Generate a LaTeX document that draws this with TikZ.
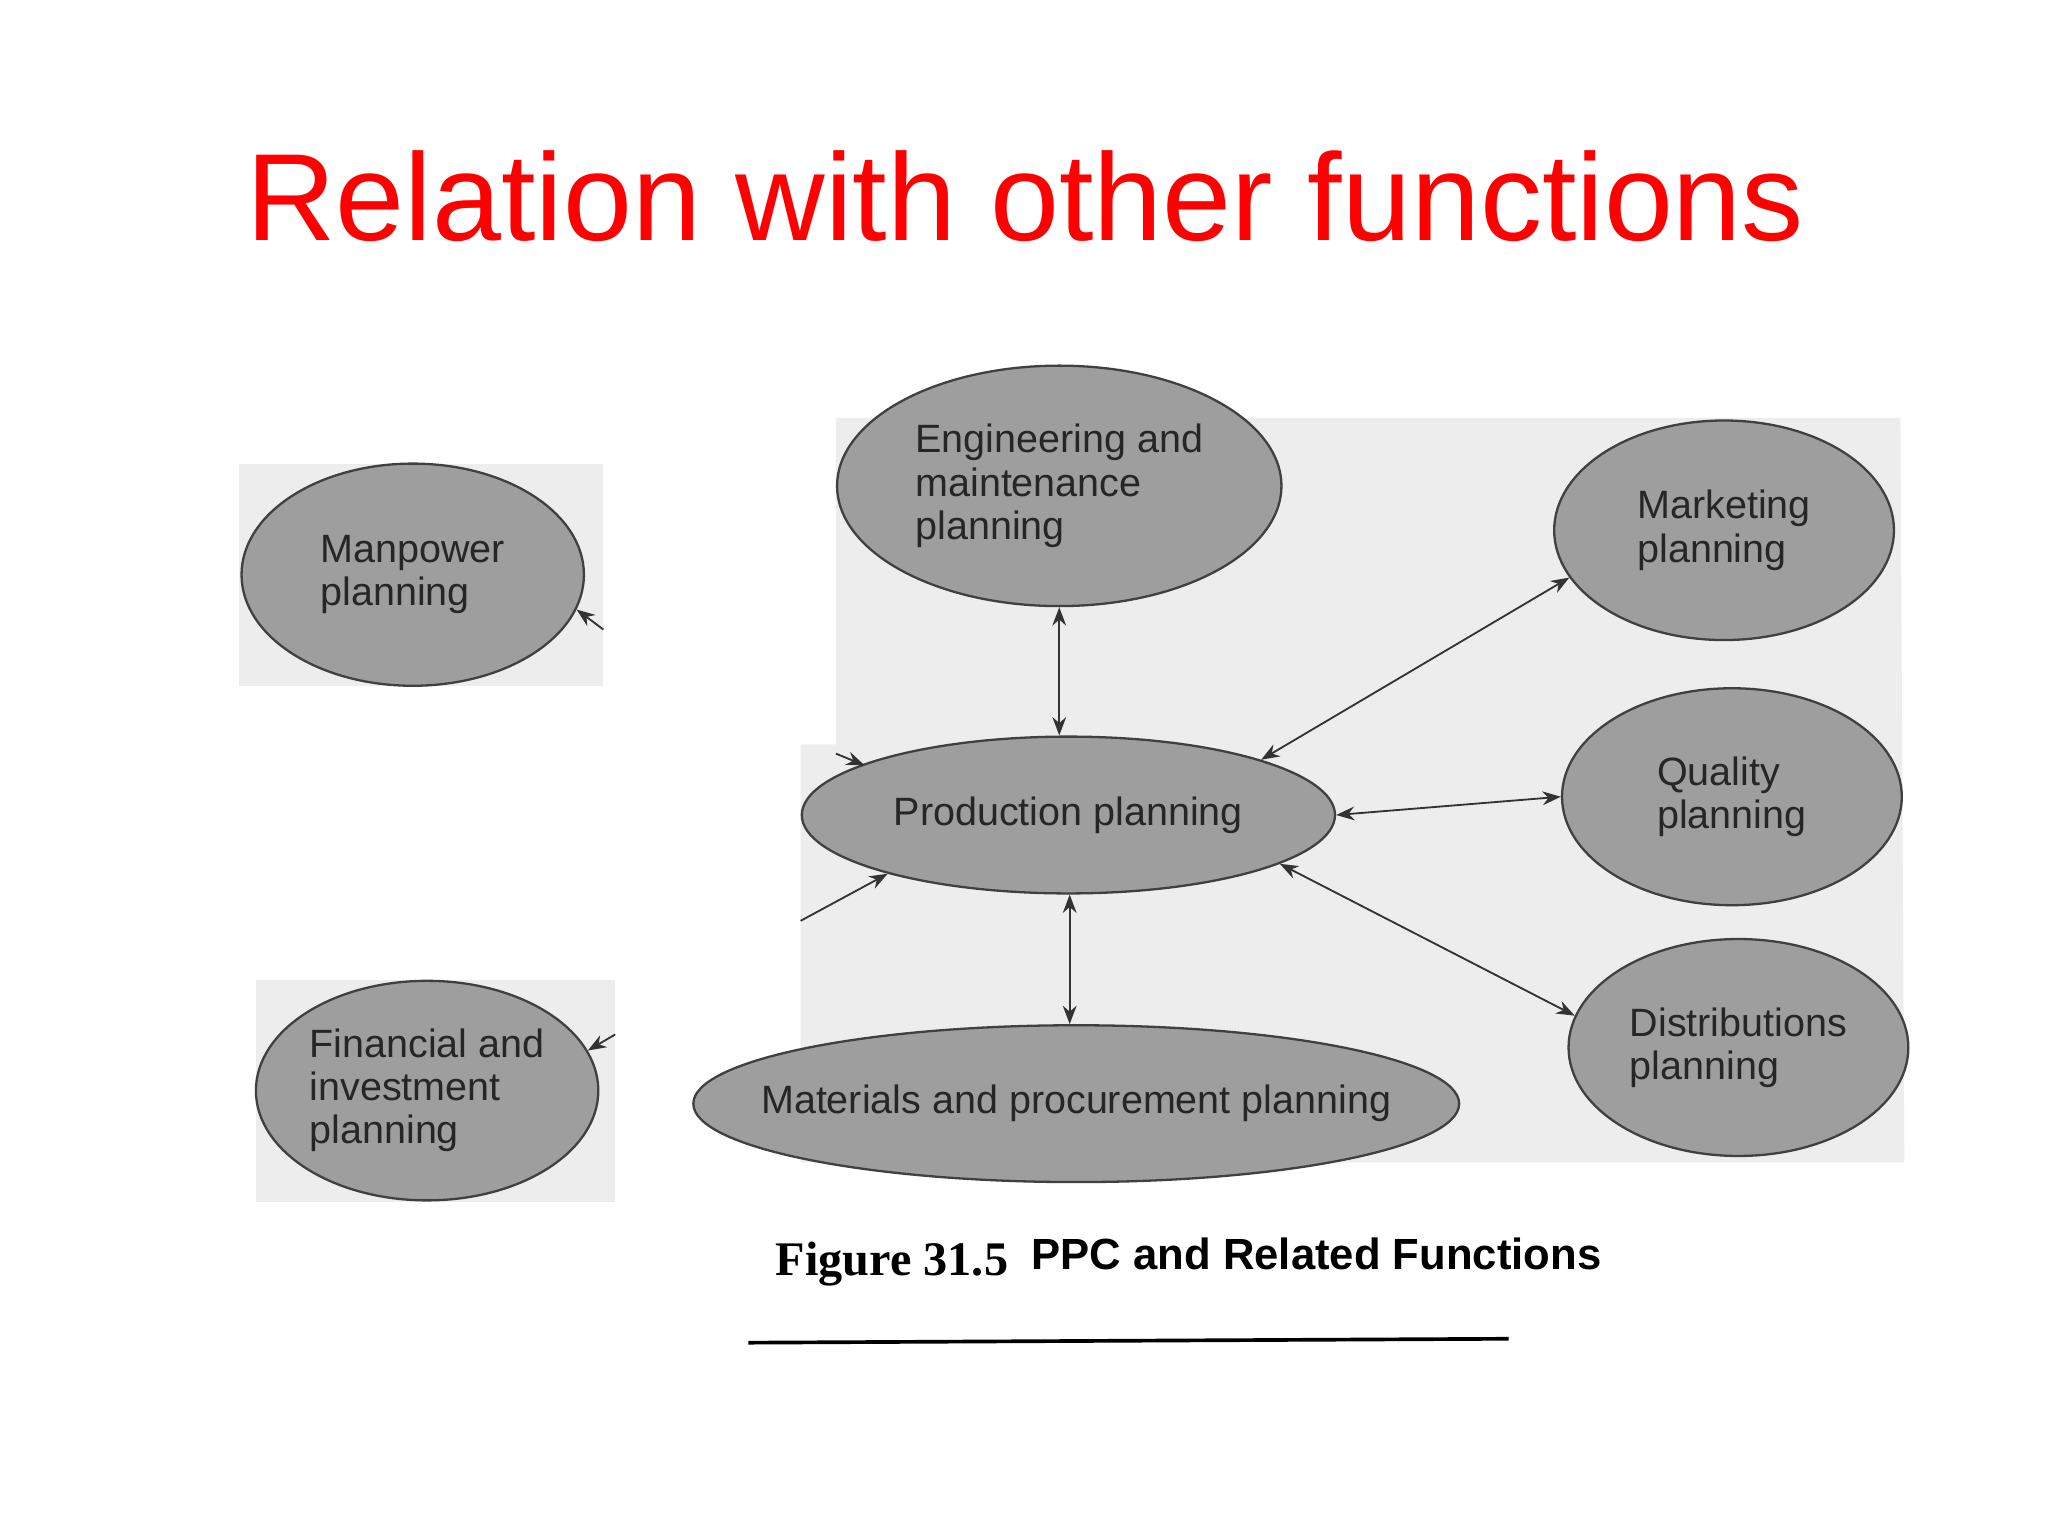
\documentclass[tikz,border=0pt]{standalone}
\usepackage{fontspec}
\setmainfont{Liberation Serif}
\setsansfont{Liberation Sans}
\usetikzlibrary{shapes.geometric,arrows.meta}
\tikzset{
 oval/.style={ellipse,draw=black!75,line width=0.5pt,fill=black!38,inner sep=0pt,font=\sffamily\fontsize{8.6}{9.4}\selectfont,text=black!85,align=left},
 ovaltext/.style={font=\sffamily\fontsize{8.6}{9.4}\selectfont,text=black!85},
 link/.style={draw=black!80,line width=0.4pt,{Stealth[length=4pt,width=3pt]}-{Stealth[length=4pt,width=3pt]}},
 stub/.style={draw=black!80,line width=0.4pt,-{Stealth[length=4pt,width=3pt]}},
 panel/.style={fill=black!7,draw=none}
}
\begin{document}
\begin{tikzpicture}[x=0.01cm,y=-0.01cm]
\useasboundingbox (0,0) rectangle (1568,1176);
\fill[white] (0,0) rectangle (1568,1176);
\node[text=red,font=\sffamily\fontsize{27}{30}\selectfont] (title) at (785,150) {Relation with other functions};
% panels
\fill[panel] (183,355) rectangle (462,525);
\fill[panel] (196,750) rectangle (471,920);
\fill[panel] (640,320) -- (1455,320) -- (1458,890) -- (613,890) -- (613,570) -- (640,570) -- cycle;
% ellipses
\node[oval,minimum width=2.62cm,minimum height=1.70cm] (man) at (316,440) {Manpower\\planning};
\node[oval,minimum width=3.40cm,minimum height=1.84cm] (eng) at (811,372) {Engineering and\\maintenance\\planning};
\node[oval,minimum width=2.60cm,minimum height=1.68cm] (mkt) at (1320,406) {Marketing\\planning};
\node[oval,minimum width=4.08cm,minimum height=1.20cm] (prod) at (818,624) {Production planning};
\node[oval,minimum width=2.60cm,minimum height=1.66cm] (qual) at (1326,610) {Quality\\planning};
\node[oval,minimum width=5.86cm,minimum height=1.20cm] (mat) at (824,845) {};
\node[ovaltext] (matlabel) at (mat.center) {Materials and procurement planning};
\node[oval,minimum width=2.60cm,minimum height=1.66cm] (dist) at (1331,802) {Distributions\\planning};
\node[oval,minimum width=2.62cm,minimum height=1.68cm] (fin) at (327,835) {Financial and\\investment\\planning};
% connectors
\draw[link] (eng.south) -- (eng.south |- prod.north);
\draw[link] (prod.south) ++(1,0) coordinate (p1) -- (p1 |- mat.north);
\draw[link] (prod.16) -- (mkt.197);
\draw[link] (prod.east) -- (qual.west);
\draw[link] (prod.-13) -- (dist.169);
% stubs
\coordinate (s1) at (640,577);
\coordinate (s2) at (613,705);
\coordinate (s3) at (462,482);
\coordinate (s4) at (471,792);
\draw[stub] (s1) -- (662,586);
\draw[stub] (s2) -- (prod.198);
\draw[stub] (s3) -- (man.-12);
\draw[stub] (s4) -- (fin.14);
% caption
\node[font=\bfseries\fontsize{10.5}{12}\selectfont] (figlab) at (683,968) {Figure 31.5};
\node[font=\sffamily\bfseries\fontsize{9.5}{11}\selectfont] (figtitle) at (1008,960) {PPC and Related Functions};
\coordinate (l1) at (573,1028);
\coordinate (l2) at (1155,1025);
\draw[line width=0.8pt] (l1) -- (l2);
\end{tikzpicture}
\end{document}
